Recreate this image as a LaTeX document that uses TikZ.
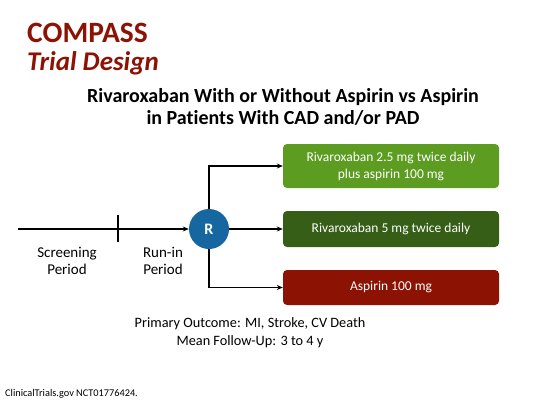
\documentclass[tikz,border=0pt]{standalone}
\usepackage{fontspec}
\setmainfont{Carlito}[Ligatures=NoCommon]
\usetikzlibrary{arrows.meta, positioning}

\definecolor{trialred}{RGB}{140,18,4}
\definecolor{randblue}{RGB}{22,102,160}
\definecolor{armlight}{RGB}{92,156,32}
\definecolor{armdark}{RGB}{54,94,22}

\begin{document}
\begin{tikzpicture}[
  x=1pt, y=-1pt,
  font=\fontsize{13.5}{17}\selectfont,
  arm/.style={rounded corners=4pt, text=white, minimum width=216pt,
              align=center, inner sep=2pt},
  flow/.style={-{Stealth[length=6pt, width=5pt]}, line width=1.5pt},
  phase/.style={align=center, font=\fontsize{15}{17}\selectfont},
]
\useasboundingbox (0,0) rectangle (540,405);

\node[anchor=base west, text=trialred, inner sep=0pt,
      font=\fontsize{29.5}{32}\bfseries\selectfont] (title) at (27,42) {COMPASS};
\node[anchor=base west, text=trialred, inner sep=0pt,
      font=\fontsize{27}{30}\bfseries\itshape\selectfont] (subtitle) at (27,70) {Trial Design};

\node[align=center, font=\fontsize{20}{22}\bfseries\selectfont] (heading) at (283,107)
  {Rivaroxaban With or Without Aspirin vs Aspirin\\in Patients With CAD and/or PAD};

% timeline
\coordinate (start) at (18,229);
\coordinate (tick) at (118,229);
\node[circle, fill=randblue, text=white, minimum size=40pt, inner sep=0pt,
      font=\fontsize{16}{18}\bfseries\selectfont] (rand) at (209,229) {R};

\draw[flow] (start) -- (rand.west);
\draw[line width=1.5pt] ([yshift=-13pt]tick) -- ([yshift=14pt]tick);

\node[phase] (screen) at (67,261) {Screening\\Period};
\node[phase] (runin) at (163,261) {Run-in\\Period};

% treatment arms
\node[arm, fill=armlight, minimum height=44pt] (arm1) at (391,166)
  {Rivaroxaban 2.5 mg twice daily\\plus aspirin 100 mg};
\node[arm, fill=armdark, minimum height=36pt] (arm2) at (391,229)
  {Rivaroxaban 5 mg twice daily};
\node[arm, fill=trialred, minimum height=35pt] (arm3) at (391,287.5)
  {Aspirin 100 mg};

\draw[flow] (rand) |- (arm1.west);
\draw[flow] (rand) -- (arm2);
\draw[flow] (rand) |- (arm3.west);

\node[align=center, font=\fontsize{14.3}{18}\selectfont] (outcome) at (250,333)
  {Primary Outcome: MI, Stroke, CV Death\\Mean Follow-Up: 3 to 4 y};

\node[anchor=west, inner sep=0pt, font=\fontsize{10.3}{12}\selectfont] (source) at (5,394)
  {ClinicalTrials.gov NCT01776424.};

\end{tikzpicture}
\end{document}
